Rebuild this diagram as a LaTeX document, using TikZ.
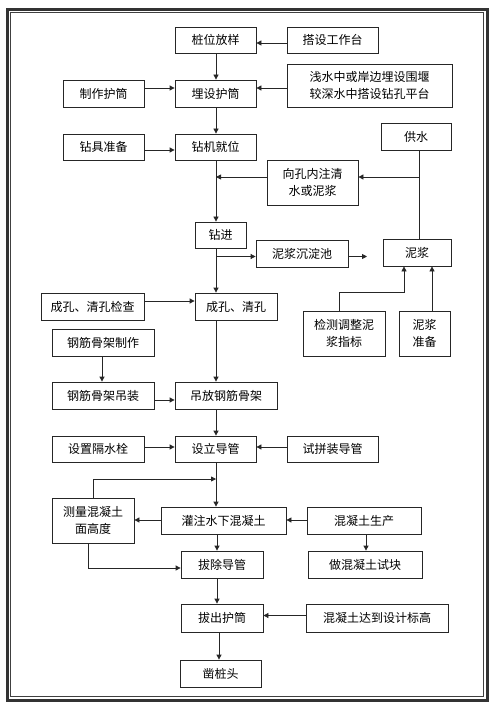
\documentclass[tikz,border=0pt]{standalone}
\usepackage{fontspec}
\setmainfont{Noto Sans CJK SC}
\usetikzlibrary{arrows.meta}
\begin{document}
\begin{tikzpicture}[x=1pt,y=-1pt,
  box/.style={draw=black!85,line width=0.8pt,inner sep=0pt,align=center,font=\fontsize{12}{17}\selectfont},
  ln/.style={draw=black!85,line width=0.8pt},
  arr/.style={ln,-{Triangle[length=5pt,width=5pt]}}]
\useasboundingbox (0,0) rectangle (495,708);
\fill[white] (0,0) rectangle (495,708);
% frame
\draw[line width=3pt,black!80] (7.5,9.5) rectangle (487,700);
\draw[line width=0.8pt,black!75] (10.8,12.8) rectangle (483.7,696.7);
% nodes
\node[box,minimum width=81pt,minimum height=26pt] (zwfy) at (215.5,40) {桩位放样};
\node[box,minimum width=91pt,minimum height=26pt] (dsgzt) at (332.5,40) {搭设工作台};
\node[box,minimum width=81pt,minimum height=27pt] (msht) at (215.5,93.5) {埋设护筒};
\node[box,minimum width=81pt,minimum height=27pt] (zzht) at (103.5,93.5) {制作护筒};
\node[box,minimum width=165pt,minimum height=43pt] (qs) at (369.5,85.5) {浅水中或岸边埋设围堰\\较深水中搭设钻孔平台};
\node[box,minimum width=81pt,minimum height=26pt] (zjzb) at (103.5,147) {钻具准备};
\node[box,minimum width=81pt,minimum height=26pt] (zjjw) at (215.5,147) {钻机就位};
\node[box,minimum width=70pt,minimum height=27pt] (gs) at (416,136.5) {供水};
\node[box,minimum width=91pt,minimum height=45pt] (xk) at (312.5,182.5) {向孔内注清\\水或泥浆};
\node[box,minimum width=51pt,minimum height=26pt] (zj) at (220.5,235) {钻进};
\node[box,minimum width=92pt,minimum height=27pt] (njcd) at (302,253.5) {泥浆沉淀池};
\node[box,minimum width=68pt,minimum height=27pt] (nj) at (417,252.5) {泥浆};
\node[box,minimum width=82pt,minimum height=27pt] (ckqk) at (236,306.5) {成孔、清孔};
\node[box,minimum width=103pt,minimum height=27pt] (ckjc) at (92.5,306.5) {成孔、清孔检查};
\node[box,minimum width=102pt,minimum height=27pt] (gjzz) at (103,342.5) {钢筋骨架制作};
\node[box,minimum width=102pt,minimum height=27pt] (gjdz) at (103,395.5) {钢筋骨架吊装};
\node[box,minimum width=102pt,minimum height=27pt] (dfgj) at (226,395.5) {吊放钢筋骨架};
\node[box,minimum width=82pt,minimum height=45pt] (jc) at (344,333.5) {检测调整泥\\浆指标};
\node[box,minimum width=51pt,minimum height=45pt] (njzb) at (424.5,333.5) {泥浆\\准备};
\node[box,minimum width=92pt,minimum height=26pt] (szgs) at (98,449) {设置隔水栓};
\node[box,minimum width=81pt,minimum height=26pt] (sldg) at (215.5,449) {设立导管};
\node[box,minimum width=91pt,minimum height=26pt] (spzdg) at (332.5,449) {试拼装导管};
\node[box,minimum width=82pt,minimum height=45pt] (cl) at (93,520.5) {测量混凝土\\面高度};
\node[box,minimum width=125pt,minimum height=27pt] (gz) at (223.5,520.5) {灌注水下混凝土};
\node[box,minimum width=114pt,minimum height=27pt] (hsc) at (364,520.5) {混凝土生产};
\node[box,minimum width=82pt,minimum height=27pt] (bcdg) at (222,564.5) {拔除导管};
\node[box,minimum width=114pt,minimum height=27pt] (zhsk) at (365,564.5) {做混凝土试块};
\node[box,minimum width=82pt,minimum height=28pt] (bchc) at (222,618) {拔出护筒};
\node[box,minimum width=142pt,minimum height=28pt] (hdd) at (377,618) {混凝土达到设计标高};
\node[box,minimum width=81pt,minimum height=27pt] (zzt) at (220.5,673.5) {凿桩头};
% helper coordinates
\coordinate (m1) at (216,177);
\coordinate (w1) at (419,177);
\coordinate (b1) at (216,256.5);
\coordinate (ne) at (367,256.5);
\coordinate (t1) at (216,479);
% connectors
\draw[arr] (dsgzt.west |- 0,43) -- (zwfy.east |- 0,43);
\draw[arr] (zwfy.south -| 216,0) -- (msht.north -| 216,0);
\draw[arr] (zzht.east |- 0,88) -- (msht.west |- 0,88);
\draw[arr] (qs.west |- 0,88) -- (msht.east |- 0,88);
\draw[arr] (msht.south -| 216,0) -- (zjjw.north -| 216,0);
\draw[arr] (zjzb.east |- 0,150) -- (zjjw.west |- 0,150);
\draw[ln] (zjjw.south -| 216,0) -- (m1);
\draw[arr] (m1) -- (zj.north -| 216,0);
\draw[arr] (xk.west |- m1) -- (m1);
\draw[ln] (gs.south -| 419,0) -- (nj.north -| 419,0);
\draw[arr] (w1) -- (xk.east |- w1);
\draw[ln] (zj.south -| 216,0) -- (b1);
\draw[arr] (b1) -- (ckqk.north -| 216,0);
\draw[arr] (b1) -- (njcd.west |- b1);
\draw[arr] (njcd.east |- ne) -- (ne);
\draw[arr] (ckjc.east |- 0,301) -- (ckqk.west |- 0,301);
\draw[arr] (ckqk.south -| 216,0) -- (dfgj.north -| 216,0);
\draw[arr] (gjzz.south -| 102,0) -- (gjdz.north -| 102,0);
\draw[arr] (gjdz.east |- 0,400) -- (dfgj.west |- 0,400);
\draw[arr] (jc.north -| 339,0) |- (404,292) -- (nj.south -| 404,0);
\draw[arr] (njzb.north -| 432,0) -- (nj.south -| 432,0);
\draw[arr] (dfgj.south -| 216,0) -- (sldg.north -| 216,0);
\draw[arr] (szgs.east |- 0,447) -- (sldg.west |- 0,447);
\draw[arr] (spzdg.west |- 0,447) -- (sldg.east |- 0,447);
\draw[ln] (sldg.south -| 216,0) -- (t1);
\draw[arr] (t1) -- (gz.north -| 216,0);
\draw[arr] (cl.north -| 93,0) |- (t1);
\draw[arr] (gz.west |- 0,520) -- (cl.east |- 0,520);
\draw[arr] (hsc.west |- 0,520) -- (gz.east |- 0,520);
\draw[arr] (gz.south -| 217,0) -- (bcdg.north -| 217,0);
\draw[arr] (cl.south -| 88,0) |- (bcdg.west |- 0,568);
\draw[arr] (hsc.south -| 366,0) -- (zhsk.north -| 366,0);
\draw[arr] (bcdg.south -| 217,0) -- (bchc.north -| 217,0);
\draw[arr] (hdd.west |- 0,615.5) -- (bchc.east |- 0,615.5);
\draw[arr] (bchc.south -| 219,0) -- (zzt.north -| 219,0);
\end{tikzpicture}
\end{document}
